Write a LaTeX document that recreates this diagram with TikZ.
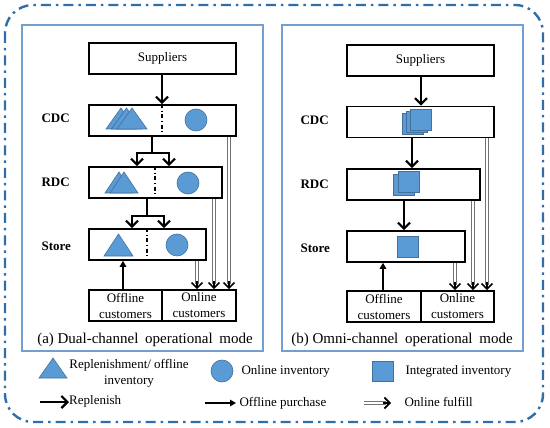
\documentclass[tikz,border=0pt]{standalone}
\usepackage{fontspec}
\setmainfont{Liberation Serif}
\usetikzlibrary{arrows.meta,calc}
\definecolor{invblue}{RGB}{91,155,213}
\definecolor{invedge}{RGB}{65,113,156}
\definecolor{panelblue}{RGB}{115,160,208}
\definecolor{outerblue}{RGB}{46,110,170}
\definecolor{fulgray}{RGB}{115,115,115}
\newcommand\onlinefulfill[2]{%
  \draw[fulgray, line width=4.4pt, shorten >=5pt] #1 -- #2;
  \draw[white, line width=1.3pt, shorten >=5pt] #1 -- #2;
  \draw[black, line width=1.6pt, -{Straight Barb[length=5.5pt,width=11pt]}] ($#2!8pt!#1$) -- #2;}
\begin{document}
\begin{tikzpicture}[x=1pt,y=-1pt,
  every node/.style={font=\fontsize{13}{16}\selectfont},
  box/.style={draw, line width=1.6pt, minimum height=31pt, inner sep=0pt, align=center},
  lvl/.style={anchor=west, font=\fontsize{13}{16}\selectfont\bfseries},
  captiontext/.style={font=\fontsize{15}{18}\selectfont},
  panel/.style={draw=panelblue, line width=1.3pt},
  inv/.style={fill=invblue, draw=invedge, line width=0.6pt},
  divider/.style={line width=1.2pt, dash pattern=on 4pt off 2.5pt on 1.2pt off 2.5pt},
  repl/.style={line width=2.2pt, -{Straight Barb[length=6pt,width=12pt]}},
  replline/.style={line width=2.2pt},
  buy/.style={line width=1.8pt, -{Triangle[length=6pt,width=6.5pt]}},
  legtext/.style={anchor=west}]
\useasboundingbox (0,0) rectangle (550,428);
% outer frame
\draw[outerblue, line width=2.4pt, rounded corners=28pt,
  dash pattern=on 10pt off 5pt on 2.5pt off 5pt] (5,5) rectangle (543,422);
% panels
\draw[panel] (22,25) rectangle (263,351);
\draw[panel] (282,25) rectangle (523,351);

% ---------- panel (a) ----------
\node[box, minimum width=147pt] (supA) at (162.5,58.5) {Suppliers};
\node[box, minimum width=147pt] (cdcA) at (162.5,120.5) {};
\node[box, minimum width=133pt] (rdcA) at (155.5,182.5) {};
\node[box, minimum width=117pt] (stoA) at (147.5,244.5) {};
\node[box, minimum width=73pt] (offA) at (125.5,305.5) {Offline\\customers};
\node[box, minimum width=74pt] (onA) at (199,305.5) {Online\\customers};
\node[lvl] (lcdcA) at (38,118.5) {CDC};
\node[lvl] (lrdcA) at (38,182) {RDC};
\node[lvl] (lstoA) at (38,246) {Store};
\node[captiontext] (capA) at (145,340) {(a) Dual-channel\hspace{3pt} operational\hspace{3pt} mode};

% dividers
\coordinate (dA1) at (162,0); \coordinate (dA2) at (155,0); \coordinate (dA3) at (147,0);
\draw[divider] (dA1 |- cdcA.north) -- (dA1 |- cdcA.south);
\draw[divider] (dA2 |- rdcA.north) -- (dA2 |- rdcA.south);
\draw[divider] (dA3 |- stoA.north) -- (dA3 |- stoA.south);

% inventories
\foreach \o in {0,5.5,11} \draw[inv] (106+\o,129) -- (121+\o,108) -- (136+\o,129) -- cycle;
\draw[inv] (196,120) circle (11);
\foreach \o in {0,5} \draw[inv] (105+\o,193) -- (119+\o,172) -- (133+\o,193) -- cycle;
\draw[inv] (188,183) circle (11);
\draw[inv] (104,256) -- (118.5,234) -- (133,256) -- cycle;
\draw[inv] (177,245) circle (11);

% replenishment
\coordinate (sA0) at (162,0);
\draw[repl] (sA0 |- supA.south) -- (sA0 |- cdcA.north);
\coordinate (jA1) at (152,153); \coordinate (xA1l) at (137,0); \coordinate (xA1r) at (169,0);
\draw[replline] (jA1 |- cdcA.south) -- (jA1);
\draw[repl] (jA1) -| (xA1l |- rdcA.north);
\draw[repl] (jA1) -| (xA1r |- rdcA.north);
\coordinate (jA2) at (147,216); \coordinate (xA2l) at (132,0); \coordinate (xA2r) at (164,0);
\draw[replline] (jA2 |- rdcA.south) -- (jA2);
\draw[repl] (jA2) -| (xA2l |- stoA.north);
\draw[repl] (jA2) -| (xA2r |- stoA.north);

% offline purchase
\coordinate (pA) at (123,0);
\draw[buy] (pA |- offA.north) -- (pA |- stoA.south);

% online fulfill
\coordinate (fA1) at (197,0); \coordinate (fA2) at (214,0); \coordinate (fA3) at (229,0);
\onlinefulfill{(fA1 |- stoA.south)}{(fA1 |- onA.north)}
\onlinefulfill{(fA2 |- rdcA.south)}{(fA2 |- onA.north)}
\onlinefulfill{(fA3 |- cdcA.south)}{(fA3 |- onA.north)}

% ---------- panel (b) ----------
\node[box, minimum width=147pt] (supB) at (420.5,60.5) {Suppliers};
\node[box, minimum width=147pt] (cdcB) at (420.5,122) {};
\node[box, minimum width=133pt] (rdcB) at (413.5,184.5) {};
\node[box, minimum width=118pt] (stoB) at (406,246.5) {};
\node[box, minimum width=74pt] (offB) at (384,306.5) {Offline\\customers};
\node[box, minimum width=73pt] (onB) at (457.5,306.5) {Online\\customers};
\node[lvl] (lcdcB) at (297,120) {CDC};
\node[lvl] (lrdcB) at (297,184) {RDC};
\node[lvl] (lstoB) at (297,248) {Store};
\node[captiontext] (capB) at (402,340) {(b) Omni-channel\hspace{3pt} operational\hspace{3pt} mode};

% integrated inventories
\draw[inv] (402,113) rectangle (423,134);
\draw[inv] (406,111) rectangle (427,132);
\draw[inv] (410,109) rectangle (431,130);
\draw[inv] (393,174) rectangle (414,195);
\draw[inv] (398,171) rectangle (419,192);
\draw[inv] (397,236) rectangle (418,257);

% replenishment
\coordinate (sB0) at (421,0); \coordinate (sB1) at (412,0); \coordinate (sB2) at (404,0);
\draw[repl] (sB0 |- supB.south) -- (sB0 |- cdcB.north);
\draw[repl] (sB1 |- cdcB.south) -- (sB1 |- rdcB.north);
\draw[repl] (sB2 |- rdcB.south) -- (sB2 |- stoB.north);

% offline purchase
\coordinate (pB) at (383,0);
\draw[buy] (pB |- offB.north) -- (pB |- stoB.south);

% online fulfill
\coordinate (fB1) at (455,0); \coordinate (fB2) at (473,0); \coordinate (fB3) at (487,0);
\onlinefulfill{(fB1 |- stoB.south)}{(fB1 |- onB.north)}
\onlinefulfill{(fB2 |- rdcB.south)}{(fB2 |- onB.north)}
\onlinefulfill{(fB3 |- cdcB.south)}{(fB3 |- onB.north)}

% ---------- legend ----------
\draw[inv] (39,378) -- (53,358) -- (67,378) -- cycle;
\node[align=center] (lgTri) at (129,373) {Replenishment/ offline\\inventory};
\draw[inv] (222,371) circle (11);
\node[legtext] (lgCir) at (238,371) {Online inventory};
\draw[inv] (372,361) rectangle (393,381);
\node[legtext] (lgSq) at (402,371) {Integrated inventory};

\node[legtext, inner sep=0pt] (lgRep) at (69,401) {Replenish};
\coordinate (lgRepS) at (40,402);
\draw[repl] (lgRepS) -- (lgRep.west |- lgRepS);
\node[legtext] (lgBuy) at (236,403) {Offline purchase};
\coordinate (lgBuyS) at (205,403);
\draw[buy] (lgBuyS) -- (lgBuy.west |- lgBuyS);
\node[legtext] (lgFul) at (401,402) {Online fulfill};
\coordinate (lgFulS) at (364,403); \coordinate (lgFulE) at (391,403);
\onlinefulfill{(lgFulS)}{(lgFulE)}
\end{tikzpicture}
\end{document}
